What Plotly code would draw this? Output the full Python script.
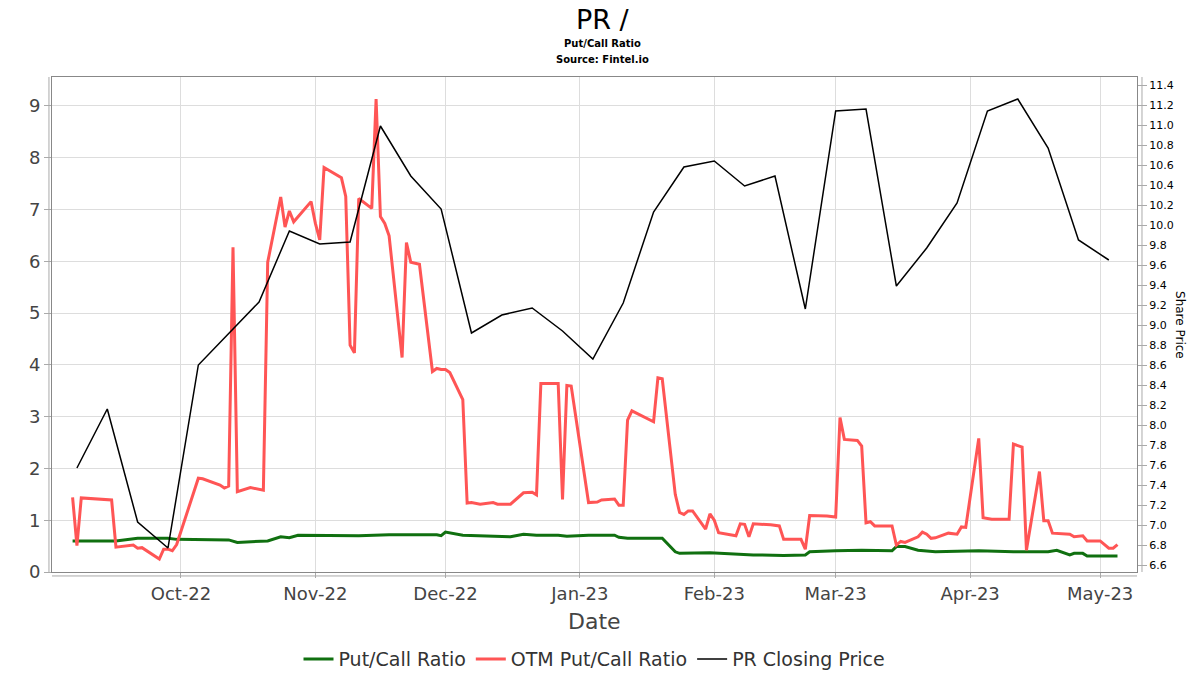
import plotly.graph_objects as go

# ---------------- data ----------------
green_dates = ["2022-09-06", "2022-09-16", "2022-09-21", "2022-09-28", "2022-09-30", "2022-10-12",
               "2022-10-14", "2022-10-21", "2022-10-24", "2022-10-26", "2022-10-28", "2022-11-11",
               "2022-11-18", "2022-11-29", "2022-11-30", "2022-12-01", "2022-12-05", "2022-12-16",
               "2022-12-19", "2022-12-22", "2022-12-27", "2022-12-29", "2023-01-03", "2023-01-09",
               "2023-01-10", "2023-01-12", "2023-01-20", "2023-01-23", "2023-01-24", "2023-01-31",
               "2023-02-10", "2023-02-17", "2023-02-22", "2023-02-23", "2023-03-01", "2023-03-07",
               "2023-03-14", "2023-03-15", "2023-03-17", "2023-03-20", "2023-03-24", "2023-04-03",
               "2023-04-11", "2023-04-19", "2023-04-21", "2023-04-24", "2023-04-25", "2023-04-27",
               "2023-04-28", "2023-05-05"]
green_values = [0.60, 0.60, 0.65, 0.65, 0.63, 0.62,
                0.57, 0.60, 0.68, 0.66, 0.71, 0.70,
                0.72, 0.72, 0.70, 0.77, 0.71, 0.68,
                0.73, 0.71, 0.71, 0.69, 0.71, 0.71,
                0.67, 0.65, 0.65, 0.39, 0.36, 0.37,
                0.33, 0.32, 0.33, 0.39, 0.41, 0.42,
                0.41, 0.49, 0.49, 0.42, 0.39, 0.41,
                0.39, 0.39, 0.42, 0.33, 0.36, 0.36,
                0.31, 0.31]

red_dates = ["2022-09-06", "2022-09-07", "2022-09-08", "2022-09-15", "2022-09-16", "2022-09-20",
             "2022-09-21", "2022-09-22", "2022-09-26", "2022-09-27", "2022-09-28", "2022-09-29",
             "2022-09-30", "2022-10-05", "2022-10-06", "2022-10-10", "2022-10-11", "2022-10-12",
             "2022-10-13", "2022-10-14", "2022-10-17", "2022-10-20", "2022-10-21", "2022-10-24",
             "2022-10-25", "2022-10-26", "2022-10-27", "2022-10-31", "2022-11-01", "2022-11-02",
             "2022-11-03", "2022-11-07", "2022-11-08", "2022-11-09", "2022-11-10", "2022-11-11",
             "2022-11-14", "2022-11-15", "2022-11-16", "2022-11-17", "2022-11-18", "2022-11-21",
             "2022-11-22", "2022-11-23", "2022-11-25", "2022-11-28", "2022-11-29", "2022-11-30",
             "2022-12-01", "2022-12-02", "2022-12-05", "2022-12-06", "2022-12-07", "2022-12-09",
             "2022-12-12", "2022-12-13", "2022-12-16", "2022-12-19", "2022-12-21", "2022-12-22",
             "2022-12-23", "2022-12-27", "2022-12-28", "2022-12-29", "2022-12-30", "2023-01-03",
             "2023-01-05", "2023-01-06", "2023-01-09", "2023-01-10", "2023-01-11", "2023-01-12",
             "2023-01-13", "2023-01-18", "2023-01-19", "2023-01-20", "2023-01-23", "2023-01-24",
             "2023-01-25", "2023-01-26", "2023-01-27", "2023-01-30", "2023-01-31", "2023-02-01",
             "2023-02-02", "2023-02-06", "2023-02-07", "2023-02-08", "2023-02-09", "2023-02-10",
             "2023-02-14", "2023-02-16", "2023-02-17", "2023-02-21", "2023-02-22", "2023-02-23",
             "2023-02-27", "2023-03-01", "2023-03-02", "2023-03-03", "2023-03-06", "2023-03-07",
             "2023-03-08", "2023-03-09", "2023-03-10", "2023-03-14", "2023-03-15", "2023-03-16",
             "2023-03-17", "2023-03-20", "2023-03-21", "2023-03-22", "2023-03-23", "2023-03-24",
             "2023-03-27", "2023-03-29", "2023-03-30", "2023-03-31", "2023-04-03", "2023-04-04",
             "2023-04-06", "2023-04-10", "2023-04-11", "2023-04-13", "2023-04-14", "2023-04-17",
             "2023-04-18", "2023-04-19", "2023-04-20", "2023-04-24", "2023-04-25", "2023-04-27",
             "2023-04-28", "2023-05-01", "2023-05-03", "2023-05-04", "2023-05-05"]
red_values = [1.44, 0.51, 1.43, 1.39, 0.48, 0.52,
              0.46, 0.47, 0.25, 0.44, 0.44, 0.41,
              0.53, 1.81, 1.80, 1.68, 1.62, 1.66,
              6.27, 1.55, 1.63, 1.58, 5.98, 7.24,
              6.66, 6.97, 6.76, 7.15, 6.73, 6.41,
              7.81, 7.61, 7.25, 4.38, 4.23, 7.21,
              7.02, 9.13, 6.86, 6.73, 6.49, 4.14,
              6.36, 5.98, 5.94, 3.87, 3.93, 3.91,
              3.91, 3.85, 3.33, 1.33, 1.34, 1.31,
              1.34, 1.31, 1.31, 1.53, 1.54, 1.49,
              3.64, 3.64, 1.40, 3.60, 3.59, 1.34,
              1.35, 1.39, 1.41, 1.29, 1.29, 2.93,
              3.11, 2.90, 3.75, 3.73, 1.50, 1.15,
              1.11, 1.18, 1.18, 0.83, 1.12, 1.00,
              0.76, 0.70, 0.93, 0.92, 0.68, 0.93,
              0.91, 0.89, 0.63, 0.63, 0.44, 1.09,
              1.08, 1.06, 2.98, 2.56, 2.54, 2.43,
              0.95, 0.97, 0.89, 0.89, 0.52, 0.59,
              0.57, 0.68, 0.77, 0.73, 0.65, 0.66,
              0.75, 0.73, 0.87, 0.86, 2.58, 1.05,
              1.02, 1.02, 2.47, 2.41, 0.42, 1.94,
              0.99, 0.99, 0.75, 0.73, 0.68, 0.70,
              0.60, 0.60, 0.46, 0.46, 0.53]

price_dates = ["2022-09-07", "2022-09-14", "2022-09-21", "2022-09-28", "2022-10-05", "2022-10-19",
               "2022-10-26", "2022-11-02", "2022-11-09", "2022-11-16", "2022-11-23", "2022-11-30",
               "2022-12-07", "2022-12-14", "2022-12-21", "2022-12-28", "2023-01-04", "2023-01-11",
               "2023-01-18", "2023-01-25", "2023-02-01", "2023-02-08", "2023-02-15", "2023-02-22",
               "2023-03-01", "2023-03-08", "2023-03-15", "2023-03-22", "2023-03-29", "2023-04-05",
               "2023-04-12", "2023-04-19", "2023-04-26", "2023-05-03"]
price_values = [7.57, 8.16, 7.03, 6.77, 8.60, 9.23,
                9.94, 9.81, 9.83, 10.99, 10.49, 10.16,
                8.92, 9.10, 9.17, 8.94, 8.66, 9.22,
                10.13, 10.58, 10.64, 10.39, 10.49, 9.16,
                11.14, 11.16, 9.39, 9.77, 10.22, 11.14,
                11.26, 10.77, 9.85, 9.65]

month_ticks = ["2022-10-01", "2022-11-01", "2022-12-01", "2023-01-01",
               "2023-02-01", "2023-03-01", "2023-04-01", "2023-05-01"]
month_labels = ["Oct-22", "Nov-22", "Dec-22", "Jan-23", "Feb-23", "Mar-23", "Apr-23", "May-23"]

# ---------------- figure ----------------
FONT = "DejaVu Sans"
fig = go.Figure()
fig.add_trace(go.Scatter(x=green_dates, y=green_values, name="Put/Call Ratio", mode="lines",
                         line=dict(color="#107010", width=3)))
fig.add_trace(go.Scatter(x=red_dates, y=red_values, name="OTM Put/Call Ratio", mode="lines",
                         line=dict(color="#ff5555", width=3)))
fig.add_trace(go.Scatter(x=price_dates, y=price_values, name="PR Closing Price", mode="lines",
                         yaxis="y2", line=dict(color="#000000", width=1.5)))

fig.update_layout(
    width=1200, height=675,
    margin=dict(l=52, r=63, t=77, b=103, autoexpand=False),
    paper_bgcolor="white", plot_bgcolor="white",
    font=dict(family=FONT, color="#444444"),
    showlegend=True,
    legend=dict(orientation="h", x=0.5, xanchor="center", y=-0.176, yanchor="middle",
                font=dict(size=19, color="#333333"), itemwidth=30, tracegroupgap=0),
    xaxis=dict(type="date", range=["2022-09-01 06:00", "2023-05-09 12:00"],
               tickvals=month_ticks, ticktext=month_labels,
               tickfont=dict(size=18, color="#444444"),
               showgrid=True, gridcolor="#dddddd", gridwidth=1,
               showline=True, mirror=True, linecolor="#888888", linewidth=1,
               ticks="outside", ticklen=5, tickcolor="#aaaaaa", zeroline=False),
    yaxis=dict(range=[0, 9.556], dtick=1, tick0=0,
               tickfont=dict(size=18, color="#444444"),
               showgrid=True, gridcolor="#dddddd", gridwidth=1,
               showline=True, mirror=True, linecolor="#888888", linewidth=1,
               ticks="outside", ticklen=7, tickcolor="#aaaaaa", zeroline=False),
    yaxis2=dict(overlaying="y", side="right", range=[6.53, 11.48], dtick=0.2, tick0=6.6,
                tickformat=".1f", tickfont=dict(size=11, color="#000000"),
                showgrid=False, showline=False, ticks="outside", ticklen=9,
                tickcolor="#aaaaaa", zeroline=False),
)

# offset axis lines (as in the original)
fig.add_shape(type="line", xref="paper", yref="paper", x0=-0.0028, x1=-0.0028, y0=0, y1=1,
              line=dict(color="#aaaaaa", width=1))
fig.add_shape(type="line", xref="paper", yref="paper", x0=1.0046, x1=1.0046, y0=0, y1=1,
              line=dict(color="#aaaaaa", width=1))
fig.add_shape(type="line", xref="paper", yref="paper", x0=0, x1=1, y0=-0.008, y1=-0.008,
              line=dict(color="#aaaaaa", width=1))

# titles
fig.add_annotation(text="PR /", xref="paper", yref="paper", x=0.5075, y=1.117,
                   xanchor="center", yanchor="middle", showarrow=False,
                   font=dict(family=FONT, size=27, color="#000000"))
fig.add_annotation(text="<b>Put/Call Ratio</b>", xref="paper", yref="paper", x=0.5075, y=1.068,
                   xanchor="center", yanchor="middle", showarrow=False,
                   font=dict(family=FONT, size=10, color="#000000"))
fig.add_annotation(text="<b>Source: Fintel.io</b>", xref="paper", yref="paper", x=0.5075, y=1.036,
                   xanchor="center", yanchor="middle", showarrow=False,
                   font=dict(family=FONT, size=10, color="#000000"))
fig.add_annotation(text="Date", xref="paper", yref="paper", x=0.5, y=-0.1,
                   xanchor="center", yanchor="middle", showarrow=False,
                   font=dict(family=FONT, size=22, color="#444444"))
fig.add_annotation(text="Share Price", xref="paper", yref="paper", x=1.0396, y=0.499,
                   xanchor="center", yanchor="middle", showarrow=False, textangle=90,
                   font=dict(family=FONT, size=12, color="#000000"))

fig.write_html("out.html")
